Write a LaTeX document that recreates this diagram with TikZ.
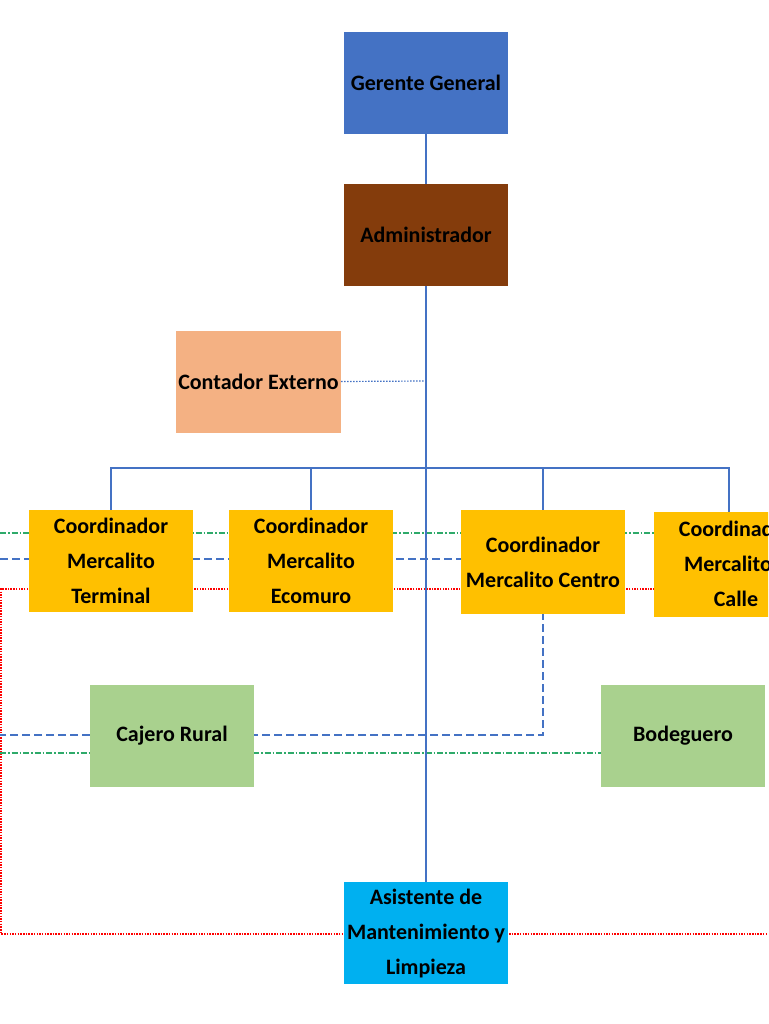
\documentclass[tikz,border=0pt]{standalone}
\usepackage{fontspec}
\setmainfont{Carlito}
\definecolor{gg}{HTML}{4472C4}
\definecolor{adm}{HTML}{843C0C}
\definecolor{cont}{HTML}{F4B183}
\definecolor{coord}{HTML}{FFC000}
\definecolor{verde}{HTML}{A9D18E}
\definecolor{cel}{HTML}{00B0F0}
\definecolor{linea}{HTML}{4472C4}
\definecolor{verdel}{HTML}{2EAA6A}
\tikzset{
 box/.style={draw=none,minimum width=164pt,minimum height=102pt,align=center,font=\fontsize{22}{35}\selectfont\bfseries,inner sep=0pt},
 solidl/.style={draw=linea,line width=1.1pt},
 dashl/.style={draw=linea,line width=1.2pt,dash pattern=on 8pt off 4pt},
 dotl/.style={draw=linea,line width=1.2pt,dash pattern=on 1.5pt off 1.5pt},
 greenl/.style={draw=verdel,line width=1.1pt,dash pattern=on 6pt off 2pt on 1.5pt off 2pt},
 redl/.style={draw=red,line width=1.2pt,dash pattern=on 1.5pt off 1.2pt}
}
\begin{document}
\begin{tikzpicture}[x=1pt,y=-1pt]
\useasboundingbox (0,0) rectangle (768,1024);
\clip (0,0) rectangle (768,1024);
\fill[white] (0,0) rectangle (768,1024);
\draw[greenl] (0,533) -- (654,533);
\draw[dashl] (0,559) -- (461,559);
\draw[redl] (768,589) -- (1,589) -- (1,934) -- (768,934);
\draw[dashl] (543,612) -- (543,735) -- (0,735);
\draw[greenl] (0,753) -- (601,753);
\node[box,fill=gg] (g) at (426,83) {Gerente General};
\node[box,fill=adm] (a) at (426,235) {Administrador};
\node[box,fill=cont,minimum width=165pt] (c) at (258.5,381.5) {Contador Externo};
\node[box,fill=coord] (t) at (111,561) {Coordinador\\Mercalito\\Terminal};
\node[box,fill=coord] (e) at (311,561) {Coordinador\\Mercalito\\Ecomuro};
\node[box,fill=coord,minimum height=104pt] (ce) at (543,562) {Coordinador\\Mercalito Centro};
\node[box,fill=coord,minimum height=105pt] (s) at (736,564) {Coordinador\\Mercalito 2\\Calle};
\node[box,fill=verde] (cr) at (172,736) {Cajero Rural};
\node[box,fill=verde] (b) at (683,736) {Bodeguero};
\node[box,fill=cel] (as) at (426,933) {Asistente de\\Mantenimiento y\\Limpieza};
\coordinate (sdrop) at (729,511.5);
\draw[solidl] (g.south) -- (a.north);
\draw[solidl] (a.south) -- (as.north);
\draw[dotl] (c.east) -- (426,381);
\draw[solidl] (t.north) -- (111,468) -- (729,468) -- (sdrop);
\draw[solidl] (e.north) -- (311,468);
\draw[solidl] (ce.north) -- (543,468);
\end{tikzpicture}
\end{document}
